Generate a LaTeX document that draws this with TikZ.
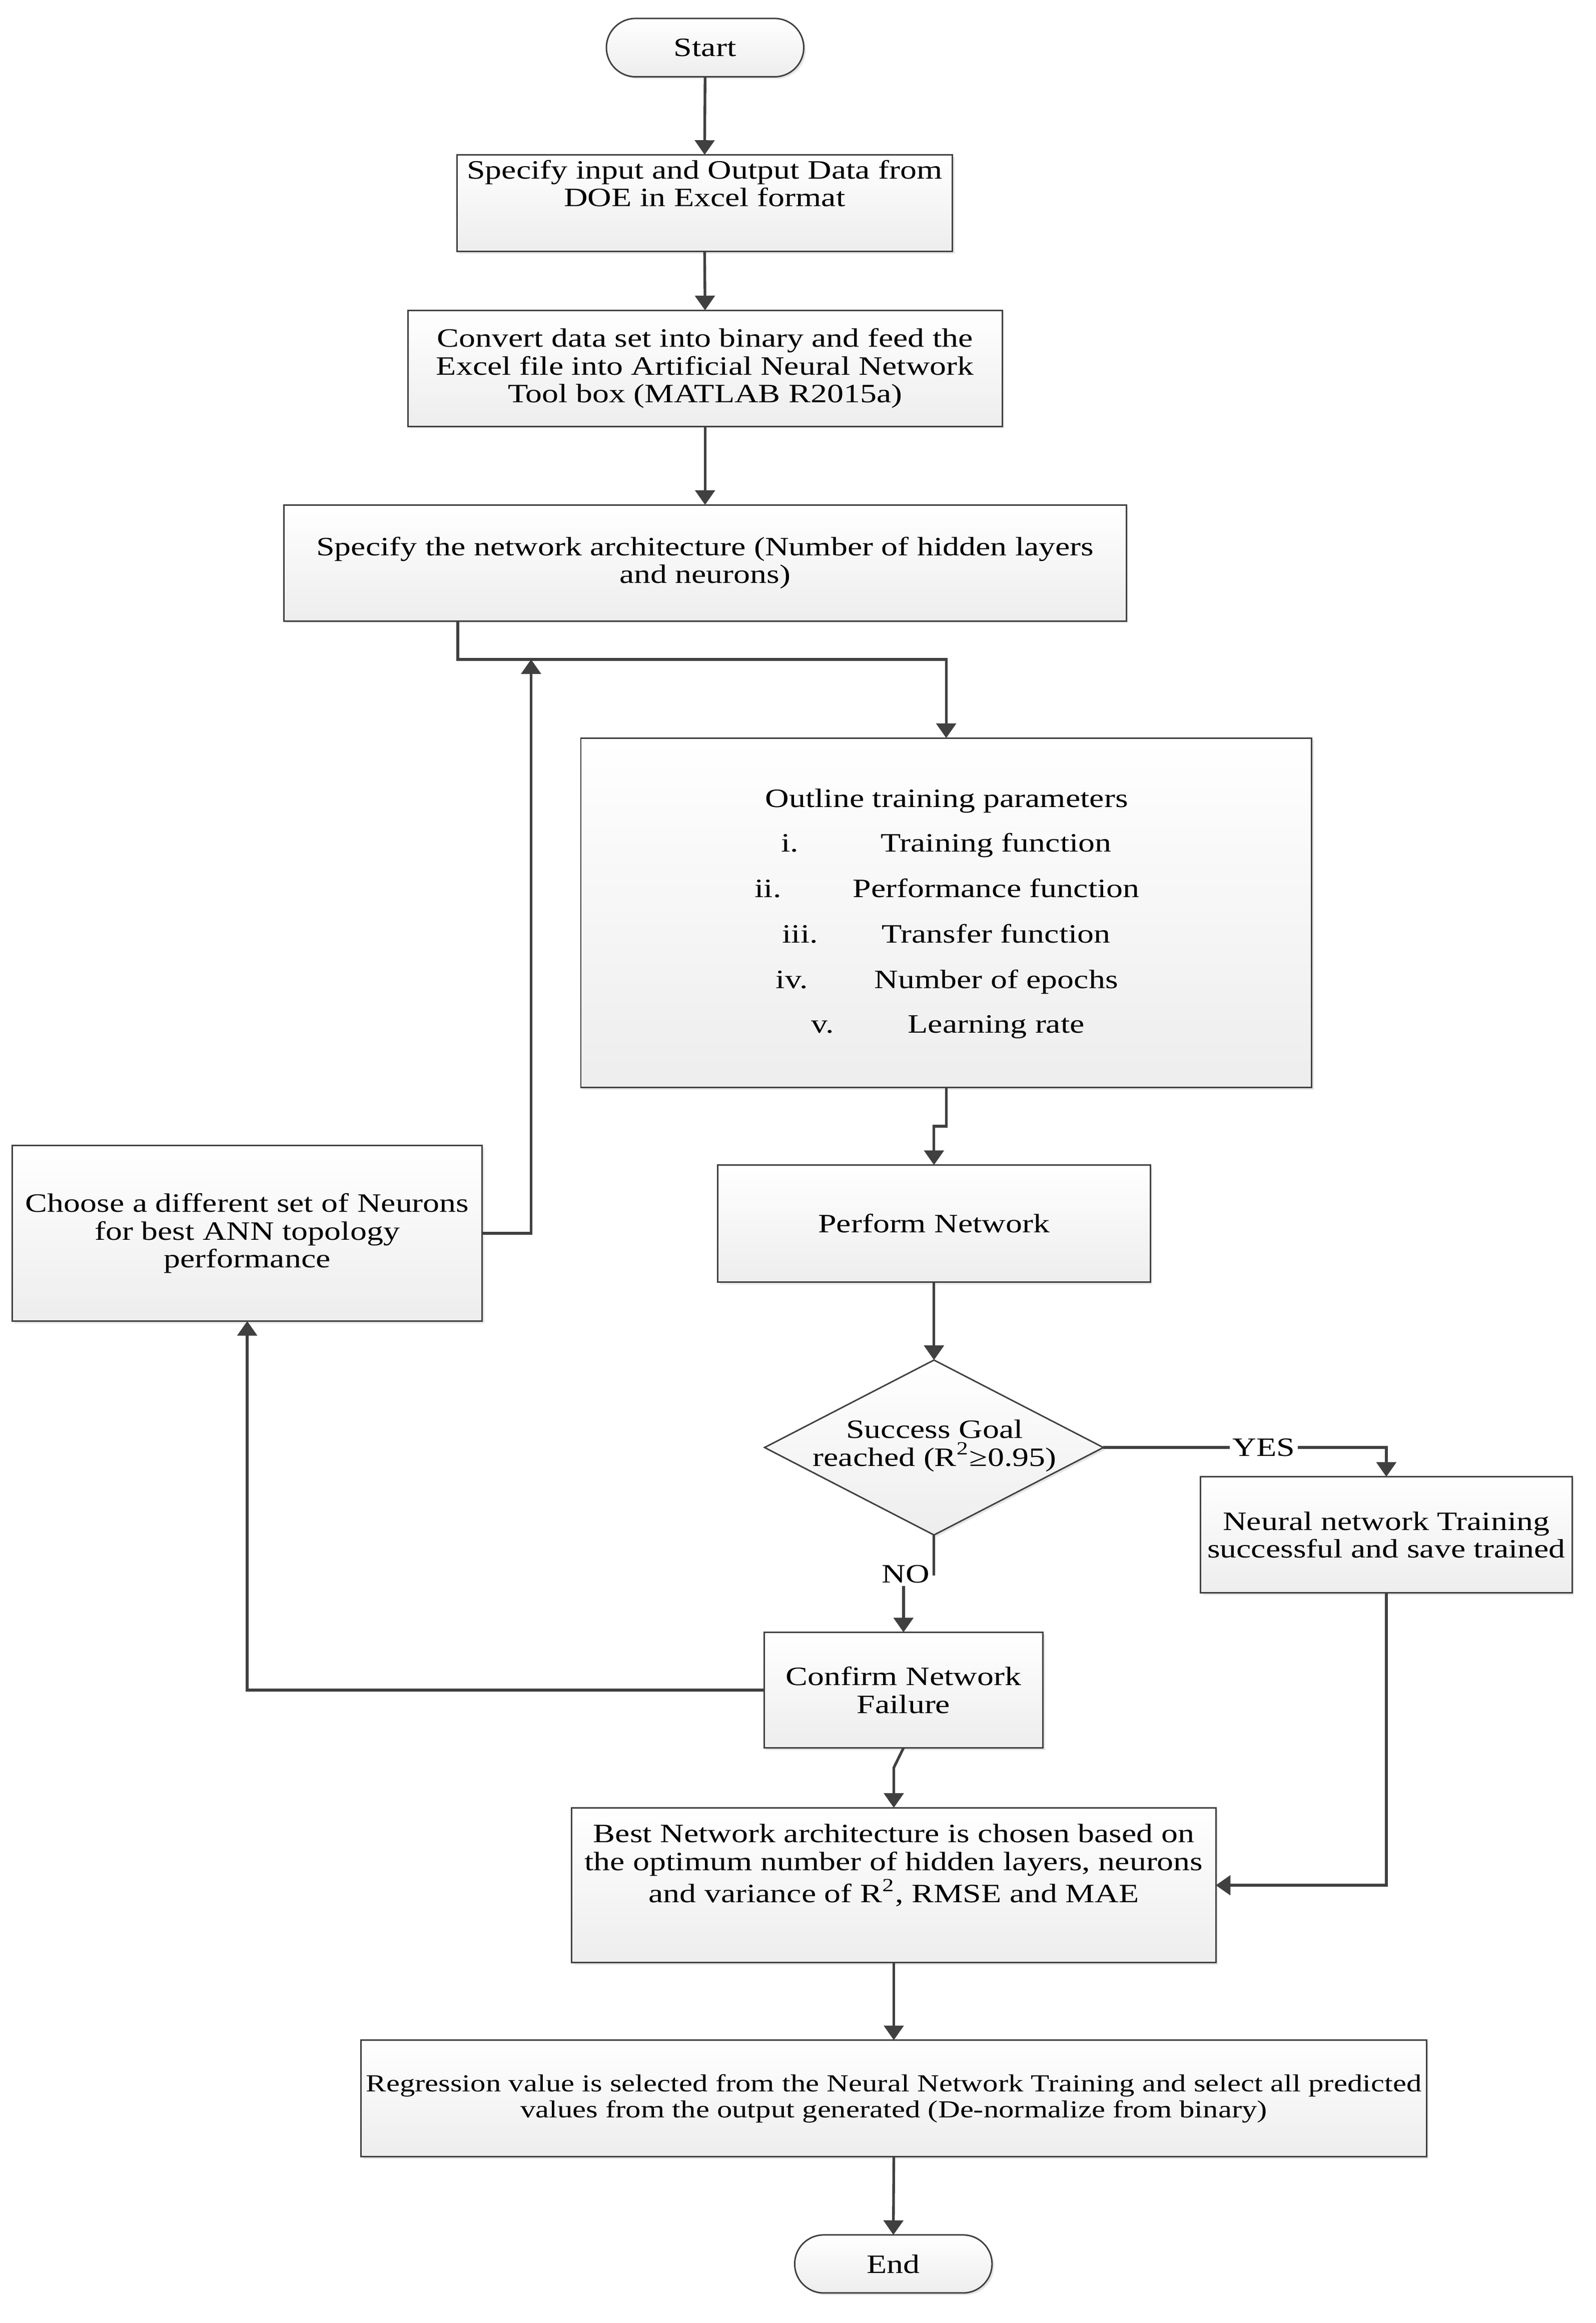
\documentclass[tikz,border=0pt]{standalone}
\usepackage{fontspec}
\setmainfont{Liberation Serif}[FakeStretch=1.245]
\usetikzlibrary{arrows.meta,shapes.geometric,shapes.misc,shadows}
\definecolor{ln}{HTML}{404040}
\begin{document}
\begin{tikzpicture}[x=0.5pt,y=-0.5pt,
  every node/.style={inner sep=0pt, outer sep=0pt},
  sz/.style 2 args={minimum width=#1*0.5pt, minimum height=#2*0.5pt},
  shapebase/.style={draw=ln, line width=0.5pt, top color=white, bottom color=black!7,
    drop shadow={shadow xshift=0.7pt, shadow yshift=-0.7pt, fill=black!20, opacity=0.5}},
  box/.style={rectangle, shapebase, align=center, font=\fontsize{8.9}{9.35}\selectfont},
  term/.style={rounded rectangle, shapebase, font=\fontsize{8.9}{9.35}\selectfont},
  decision/.style={diamond, shapebase},
  txt/.style={align=center, font=\fontsize{8.9}{9.35}\selectfont},
  item/.style={txt, text height=6.3pt, text depth=1.9pt},
  lbl/.style={txt, fill=white, inner xsep=1pt, inner ysep=1pt},
  conn/.style={draw=ln, line width=0.9pt, -{Triangle[width=6.6pt,length=4.9pt]}},
  plain/.style={draw=ln, line width=0.9pt}
]
\useasboundingbox (0,0) rectangle (1072,1560.7);

% nodes
\node[term, sz={132.6}{39.2}] (start) at (473.7,32) {Start};
\node[box, sz={333}{65}] (b1) at (473.4,136.5) {};
\node[txt] (b1t) at (473.4,123.3) {Specify input and Output Data from\\DOE in Excel format};
\node[box, sz={399.2}{78}] (b2) at (473.7,247.5) {Convert data set into binary and feed the\\Excel file into Artificial Neural Network\\Tool box (MATLAB R2015a)};
\node[box, sz={566}{78}] (b3) at (473.7,378.2) {Specify the network architecture (Number of hidden layers\\and neurons)};

\node[box, sz={490.9}{234.7}] (b4) at (635.7,613.2) {};
\node[item] (b4h) at (636,537.9) {Outline training parameters};
\node[item] (n1) at (530.6,567.9) {i.};
\node[item] (t1) at (669.3,567.9) {Training function};
\node[item] (n2) at (516,598.6) {ii.};
\node[item] (t2) at (669.3,598.6) {Performance function};
\node[item] (n3) at (537.6,628.9) {iii.};
\node[item] (t3) at (669.3,628.9) {Transfer function};
\node[item] (n4) at (532,659.5) {iv.};
\node[item] (t4) at (669.3,659.5) {Number of epochs};
\node[item] (n5) at (552.7,689.5) {v.};
\node[item] (t5) at (669.3,689.5) {Learning rate};

\node[box, sz={290.6}{78.6}] (b5) at (627.5,822) {Perform Network};
\node[decision, sz={227.6}{117.5}] (dia) at (627.5,972.5) {};
\node[txt] (diat) at (627.9,971.3) {Success Goal\\reached (R\textsuperscript{2}≥0.95)};
\node[box, sz={249.6}{78.1}] (b6) at (931.4,1031.2) {Neural network Training\\successful and save trained};
\node[box, sz={187.3}{77.7}] (b7) at (607,1135.5) {Confirm Network\\Failure};
\node[box, sz={315.8}{117.9}] (choose) at (166.1,828.6) {Choose a different set of Neurons\\for best ANN topology\\performance};
\node[box, sz={432.7}{104.1}] (b8) at (600.5,1266.6) {};
\node[txt] (b8t) at (600.5,1253.3) {Best Network architecture is chosen based on\\the optimum number of hidden layers, neurons\\and variance of R\textsuperscript{2}, RMSE and MAE};
\node[box, sz={715.7}{78.3}, font=\fontsize{8.2}{8.75}\selectfont] (b9) at (600.5,1409.8) {Regression value is selected from the Neural Network Training and select all predicted\\values from the output generated (De-normalize from binary)};
\node[term, sz={132.6}{39}] (end) at (600.2,1521) {End};

% coordinates
\coordinate (j1) at (307.6,443);
\coordinate (j2) at (356.8,443);
\coordinate (k1) at (635.7,756.6);
\coordinate (k2) at (627.5,756.6);
\coordinate (nc) at (627.5,1057.5);
\coordinate (s1) at (600.5,1187.6);

% connectors
\draw[conn] (start.south) -- (b1.north);
\draw[conn] (b1.south) -- (b2.north);
\draw[conn] (b2.south) -- (b3.north);
\draw[conn] (b3.south -| j1) -- (j1) -| (b4.north);
\draw[conn] (choose.east) -| (j2);
\draw[conn] (b4.south) -- (k1) -- (k2) -- (b5.north);
\draw[conn] (b5.south) -- (dia.north);
\draw[conn] (dia.east) -| (b6.north);
\node[lbl] (yes) at (849,972.5) {YES};
\draw[conn] (dia.south) -- (nc) -- (nc -| b7.north) -- (b7.north);
\node[lbl] (no) at (608.5,1057.5) {NO};
\draw[conn] (b7.west) -| (choose.south);
\draw[conn] (b7.south) -- (s1) -- (b8.north);
\draw[conn] (b6.south) |- (b8.east);
\draw[conn] (b8.south) -- (b9.north);
\draw[conn] (b9.south) -- (end.north);
\end{tikzpicture}
\end{document}
